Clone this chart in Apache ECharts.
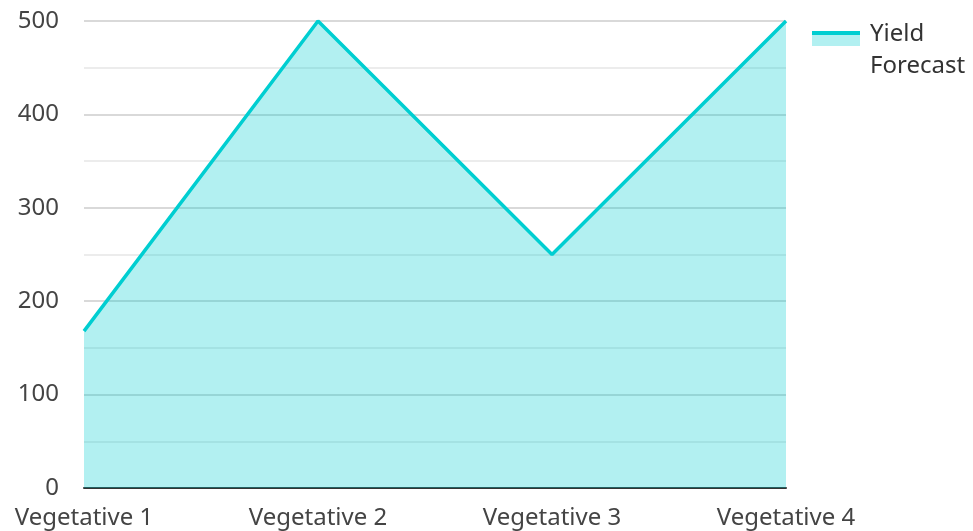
<!DOCTYPE html>
<html>
<head>
<meta charset="utf-8">
<script src="https://cdn.jsdelivr.net/npm/echarts@6/dist/echarts.min.js"></script>
<style>
  html, body { margin: 0; padding: 0; background: #fff; }
  #chart { width: 973px; height: 531px; }
</style>
</head>
<body>
<div id="chart"></div>
<script>
var categories = ['Vegetative 1', 'Vegetative 2', 'Vegetative 3', 'Vegetative 4'];
var yieldForecast = [168, 500, 250, 500];
var seriesName = 'Yield Forecast';

// legend swatch: line on top of a light area block, sitting in the upper part
var legendIcon = 'image://data:image/svg+xml;utf8,' + encodeURIComponent(
    '<svg xmlns="http://www.w3.org/2000/svg" width="48" height="48" viewBox="0 0 48 48">' +
    '<rect x="0" y="9" width="48" height="11" fill="#B2F0F1"/>' +
    '<rect x="0" y="5" width="48" height="4" fill="#00CED1"/>' +
    '</svg>');

var chart = echarts.init(document.getElementById('chart'));
chart.setOption({
    textStyle: { fontFamily: 'Noto Sans' },
    grid: { left: 84, right: 187, top: 21, bottom: 43 },
    legend: {
        data: [{ name: seriesName, icon: legendIcon }],
        orient: 'vertical',
        left: 812,
        top: 18,
        padding: 0,
        itemWidth: 48,
        itemHeight: 48,
        formatter: function () { return 'Yield\nForecast'; },
        textStyle: { fontSize: 24, color: '#333', lineHeight: 32, padding: [0, 0, 0, 5], fontFamily: 'Noto Sans' }
    },
    xAxis: {
        type: 'category',
        data: categories,
        boundaryGap: false,
        axisLine: { lineStyle: { color: '#333', width: 2 } },
        axisTick: { show: false },
        axisLabel: { fontSize: 24, color: '#444', margin: 18, fontFamily: 'Noto Sans' }
    },
    yAxis: {
        type: 'value',
        min: 0,
        max: 500,
        interval: 100,
        axisLine: { show: false },
        axisTick: { show: false },
        axisLabel: { fontSize: 24, color: '#444', margin: 25, fontFamily: 'Noto Sans' },
        splitLine: { lineStyle: { color: '#ccc', width: 1.5 } },
        minorTick: { show: false, splitNumber: 2 },
        minorSplitLine: { show: true, lineStyle: { color: '#e6e6e6', width: 1.5 } }
    },
    series: [{
        name: seriesName,
        type: 'line',
        data: yieldForecast,
        showSymbol: false,
        symbol: 'none',
        lineStyle: { color: '#00CED1', width: 3.5 },
        itemStyle: { color: '#00CED1' },
        areaStyle: { color: '#00CED1', opacity: 0.3 }
    }]
});
</script>
</body>
</html>
